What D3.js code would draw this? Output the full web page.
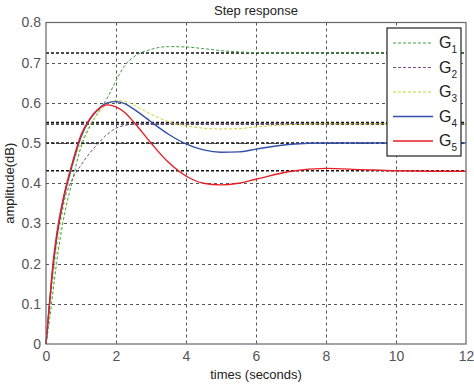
<!DOCTYPE html>
<html>
<head>
<meta charset="utf-8">
<script src="https://cdn.jsdelivr.net/npm/d3@7"></script>
<style>
  body { margin: 0; background: #fff; }
  text { font-family: Arial, "Liberation Sans", sans-serif; }
</style>
</head>
<body>
<div id="chart"></div>
<script>
// sample times (seconds)
const times = [0, 0.1, 0.2, 0.3, 0.5, 0.75, 1, 1.25, 1.5, 1.75, 2, 2.25, 2.5, 3, 3.5, 4, 4.5, 5, 5.5, 6, 7, 8, 9, 10, 11, 12];

const g1 = [0, 0.06, 0.13, 0.2, 0.31, 0.405, 0.49, 0.54, 0.578, 0.612, 0.655, 0.693, 0.714, 0.733, 0.74, 0.739, 0.735, 0.73, 0.727, 0.725, 0.724, 0.724, 0.724, 0.724, 0.724, 0.724];
const g2 = [0, 0.1, 0.19, 0.26, 0.35, 0.41, 0.445, 0.475, 0.5, 0.522, 0.537, 0.544, 0.547, 0.548, 0.548, 0.548, 0.548, 0.548, 0.548, 0.548, 0.548, 0.548, 0.548, 0.548, 0.548, 0.548];
const g3 = [0, 0.08, 0.16, 0.23, 0.34, 0.44, 0.5, 0.545, 0.575, 0.596, 0.606, 0.604, 0.595, 0.572, 0.553, 0.543, 0.537, 0.535, 0.536, 0.54, 0.546, 0.548, 0.548, 0.548, 0.548, 0.548];
const g4 = [0, 0.1, 0.19, 0.26, 0.36, 0.445, 0.515, 0.558, 0.585, 0.6, 0.603, 0.598, 0.585, 0.553, 0.522, 0.498, 0.483, 0.477, 0.478, 0.485, 0.497, 0.5, 0.5, 0.5, 0.5, 0.5];
const g5 = [0, 0.1, 0.2, 0.27, 0.365, 0.45, 0.52, 0.56, 0.585, 0.595, 0.59, 0.576, 0.553, 0.5, 0.452, 0.418, 0.4, 0.396, 0.4, 0.41, 0.43, 0.437, 0.434, 0.431, 0.43, 0.43];

// steady-state reference levels
const levels = [0.724, 0.551, 0.547, 0.5, 0.431];

const xTicks = [0, 2, 4, 6, 8, 10, 12];
const yTicks = [0, 0.1, 0.2, 0.3, 0.4, 0.5, 0.6, 0.7, 0.8];

const seriesNames = ['1', '2', '3', '4', '5'];
const seriesColors = ['#3f9f3f', '#7a4f8a', '#c8d43a', '#3450a8', '#e41f26'];
const seriesDash = ['3,2', '3,2', '3,2', null, null];
const seriesValues = [g1, g2, g3, g4, g5];

const width = 474,
  height = 384,
  margin = { top: 22.5, right: 8, bottom: 40, left: 46 };

const svg = d3
  .select('#chart')
  .append('svg')
  .attr('width', width)
  .attr('height', height);

const x = d3.scaleLinear().domain([0, 12]).range([margin.left, width - margin.right]);
const y = d3.scaleLinear().domain([0, 0.8]).range([height - margin.bottom, margin.top]);

/* ------- GRID ------- */
const grid = svg.append('g').attr('stroke', '#555').attr('stroke-width', 1).attr('stroke-dasharray', '3,3');
grid.selectAll('line.v')
  .data(xTicks.slice(1, -1))
  .enter()
  .append('line')
  .attr('x1', d => Math.round(x(d)) + 0.5)
  .attr('x2', d => Math.round(x(d)) + 0.5)
  .attr('y1', y(0.8))
  .attr('y2', y(0));
grid.selectAll('line.h')
  .data(yTicks.slice(1, -1))
  .enter()
  .append('line')
  .attr('x1', x(0))
  .attr('x2', x(12))
  .attr('y1', d => Math.round(y(d)) + 0.5)
  .attr('y2', d => Math.round(y(d)) + 0.5);

/* ------- REFERENCE LEVELS ------- */
svg.append('g')
  .selectAll('line')
  .data(levels)
  .enter()
  .append('line')
  .attr('x1', x(0))
  .attr('x2', x(12))
  .attr('y1', d => y(d))
  .attr('y2', d => y(d))
  .attr('stroke', '#111')
  .attr('stroke-width', 1.4)
  .attr('stroke-dasharray', '3,2');

/* ------- CURVES ------- */
const line = d3.line()
  .x((d, i) => x(times[i]))
  .y(d => y(d))
  .curve(d3.curveMonotoneX);

seriesValues.forEach((vals, k) => {
  svg.append('path')
    .datum(vals)
    .attr('d', line)
    .attr('fill', 'none')
    .attr('stroke', seriesColors[k])
    .attr('stroke-width', k < 3 ? 1 : 1.4)
    .attr('stroke-dasharray', seriesDash[k]);
});

/* ------- FRAME & AXES ------- */
svg.append('rect')
  .attr('x', x(0))
  .attr('y', y(0.8))
  .attr('width', x(12) - x(0))
  .attr('height', y(0) - y(0.8))
  .attr('fill', 'none')
  .attr('stroke', '#666')
  .attr('stroke-width', 1.2);

const xAxis = svg.append('g')
  .attr('transform', `translate(0,${y(0)})`)
  .call(d3.axisBottom(x).tickValues(xTicks).tickSize(0).tickPadding(7).tickFormat(d3.format('d')));
xAxis.select('.domain').remove();
xAxis.selectAll('text').attr('fill', '#555').style('font-size', '14px');

const yAxis = svg.append('g')
  .attr('transform', `translate(${x(0)},0)`)
  .call(d3.axisLeft(y).tickValues(yTicks).tickSize(0).tickPadding(5).tickFormat(d => d === 0 ? '0' : d3.format('.1f')(d)));
yAxis.select('.domain').remove();
yAxis.selectAll('text').attr('fill', '#555').style('font-size', '14px');

/* ------- TITLES ------- */
svg.append('text')
  .attr('x', (x(0) + x(12)) / 2)
  .attr('y', 15)
  .attr('text-anchor', 'middle')
  .style('font-size', '13px')
  .attr('fill', '#222')
  .text('Step response');

svg.append('text')
  .attr('x', (x(0) + x(12)) / 2)
  .attr('y', 379)
  .attr('text-anchor', 'middle')
  .style('font-size', '13px')
  .attr('fill', '#222')
  .text('times (seconds)');

svg.append('text')
  .attr('transform', `translate(14,${(y(0) + y(0.8)) / 2}) rotate(-90)`)
  .attr('text-anchor', 'middle')
  .style('font-size', '13px')
  .attr('fill', '#222')
  .text('amplitude(dB)');

/* ------- LEGEND ------- */
const legend = svg.append('g').attr('transform', 'translate(387,28)');
legend.append('rect')
  .attr('width', 74)
  .attr('height', 128)
  .attr('fill', '#fff')
  .attr('stroke', '#222')
  .attr('stroke-width', 1.2);

seriesNames.forEach((name, k) => {
  const row = legend.append('g').attr('transform', `translate(0,${15 + k * 24.5})`);
  row.append('line')
    .attr('x1', 6)
    .attr('x2', 46)
    .attr('stroke', seriesColors[k])
    .attr('stroke-width', k < 3 ? 1 : 1.4)
    .attr('stroke-dasharray', seriesDash[k]);
  const t = row.append('text')
    .attr('x', 52)
    .attr('y', 5)
    .attr('fill', '#222')
    .style('font-size', '16px')
    .text('G');
  t.append('tspan')
    .attr('dy', 5)
    .style('font-size', '10px')
    .text(name);
});
</script>
</body>
</html>
